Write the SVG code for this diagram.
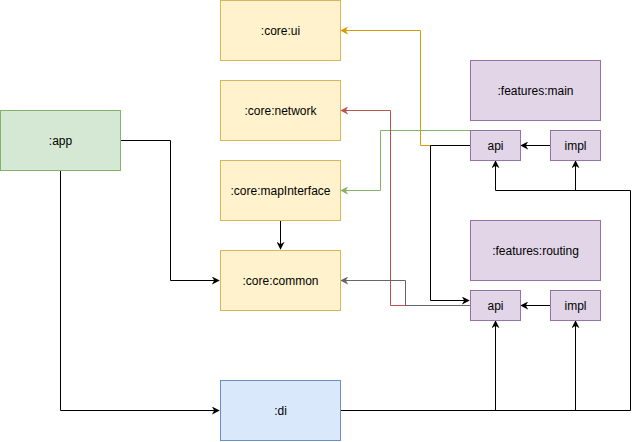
<svg xmlns="http://www.w3.org/2000/svg" width="639" height="442" viewBox="0 0 639 442">
<style>
text{font-family:"Liberation Sans",Arial,Helvetica,sans-serif;font-size:12px;fill:#000;text-anchor:middle;dominant-baseline:central}
.core{fill:#fff2cc;stroke:#d6b656}
.app{fill:#d5e8d4;stroke:#82b366}
.di{fill:#dae8fc;stroke:#6c8ebf}
.feat{fill:#e1d5e7;stroke:#9673a6}
.e{fill:none;stroke-width:1}
</style>
<defs>
<marker id="aBlack" viewBox="0 0 10 10" refX="9" refY="5" markerWidth="8" markerHeight="8" markerUnits="userSpaceOnUse" orient="auto"><path d="M0,0 L10,5 L0,10 L3,5 Z" fill="#000"/></marker>
<marker id="aOrange" viewBox="0 0 10 10" refX="9" refY="5" markerWidth="8" markerHeight="8" markerUnits="userSpaceOnUse" orient="auto"><path d="M0,0 L10,5 L0,10 L3,5 Z" fill="#d79b00"/></marker>
<marker id="aRed" viewBox="0 0 10 10" refX="9" refY="5" markerWidth="8" markerHeight="8" markerUnits="userSpaceOnUse" orient="auto"><path d="M0,0 L10,5 L0,10 L3,5 Z" fill="#b85450"/></marker>
<marker id="aGreen" viewBox="0 0 10 10" refX="9" refY="5" markerWidth="8" markerHeight="8" markerUnits="userSpaceOnUse" orient="auto"><path d="M0,0 L10,5 L0,10 L3,5 Z" fill="#82b366"/></marker>
<marker id="aGray" viewBox="0 0 10 10" refX="9" refY="5" markerWidth="8" markerHeight="8" markerUnits="userSpaceOnUse" orient="auto"><path d="M0,0 L10,5 L0,10 L3,5 Z" fill="#666666"/></marker>
</defs>
<rect width="639" height="442" fill="#fff"/>
<g id="connectors">
<path class="e" d="M120.5,140.5 H170.5 V280.5 H219" stroke="#000" marker-end="url(#aBlack)"/>
<path class="e" d="M60.5,170.5 V410.5 H219" stroke="#000" marker-end="url(#aBlack)"/>
<path class="e" d="M280.5,220.5 V249" stroke="#000" marker-end="url(#aBlack)"/>
<path class="e" d="M550,145.5 H521" stroke="#000" marker-end="url(#aBlack)"/>
<path class="e" d="M550,305.5 H521" stroke="#000" marker-end="url(#aBlack)"/>
<path class="e" d="M340.5,410.5 H630.5 V190.5 H495.5 V161" stroke="#000" marker-end="url(#aBlack)"/>
<path class="e" d="M575.5,190.5 V161" stroke="#000" marker-end="url(#aBlack)"/>
<path class="e" d="M495.5,410.5 V321" stroke="#000" marker-end="url(#aBlack)"/>
<path class="e" d="M575.5,410.5 V321" stroke="#000" marker-end="url(#aBlack)"/>
<path class="e" d="M470,145.5 H420.5 V30.5 H341" stroke="#d79b00" marker-end="url(#aOrange)"/>
<path class="e" d="M495.5,130.5 H380.5 V190.5 H341" stroke="#82b366" marker-end="url(#aGreen)"/>
<path class="e" d="M470,145.5 H430.5 V300.5 H469" stroke="#000" marker-end="url(#aBlack)"/>
<path class="e" d="M470,305.5 H390.5 V110.5 H341" stroke="#b85450" marker-end="url(#aRed)"/>
<path class="e" d="M470,305.5 H405.5 V280.5 H341" stroke="#666666" marker-end="url(#aGray)"/>
</g>
<g id="core-ui"><rect class="core" x="220.5" y="0.5" width="120" height="60"/><text x="280.5" y="30.5">:core:ui</text></g>
<g id="core-network"><rect class="core" x="220.5" y="80.5" width="120" height="60"/><text x="280.5" y="110.5">:core:network</text></g>
<g id="core-mapInterface"><rect class="core" x="220.5" y="160.5" width="120" height="60"/><text x="280.5" y="190.5">:core:mapInterface</text></g>
<g id="core-common"><rect class="core" x="220.5" y="250.5" width="120" height="60"/><text x="280.5" y="280.5">:core:common</text></g>
<g id="app"><rect class="app" x="0.5" y="110.5" width="120" height="60"/><text x="60.5" y="140.5">:app</text></g>
<g id="di"><rect class="di" x="220.5" y="380.5" width="120" height="60"/><text x="280.5" y="410.5">:di</text></g>
<g id="features-main"><rect class="feat" x="470.5" y="60.5" width="130" height="60"/><text x="535.5" y="90.5">:features:main</text></g>
<g id="main-api"><rect class="feat" x="470.5" y="130.5" width="50" height="30"/><text x="495.5" y="145.5">api</text></g>
<g id="main-impl"><rect class="feat" x="550.5" y="130.5" width="50" height="30"/><text x="575.5" y="145.5">impl</text></g>
<g id="features-routing"><rect class="feat" x="470.5" y="220.5" width="130" height="60"/><text x="535.5" y="250.5">:features:routing</text></g>
<g id="routing-api"><rect class="feat" x="470.5" y="290.5" width="50" height="30"/><text x="495.5" y="305.5">api</text></g>
<g id="routing-impl"><rect class="feat" x="550.5" y="290.5" width="50" height="30"/><text x="575.5" y="305.5">impl</text></g>
</svg>
